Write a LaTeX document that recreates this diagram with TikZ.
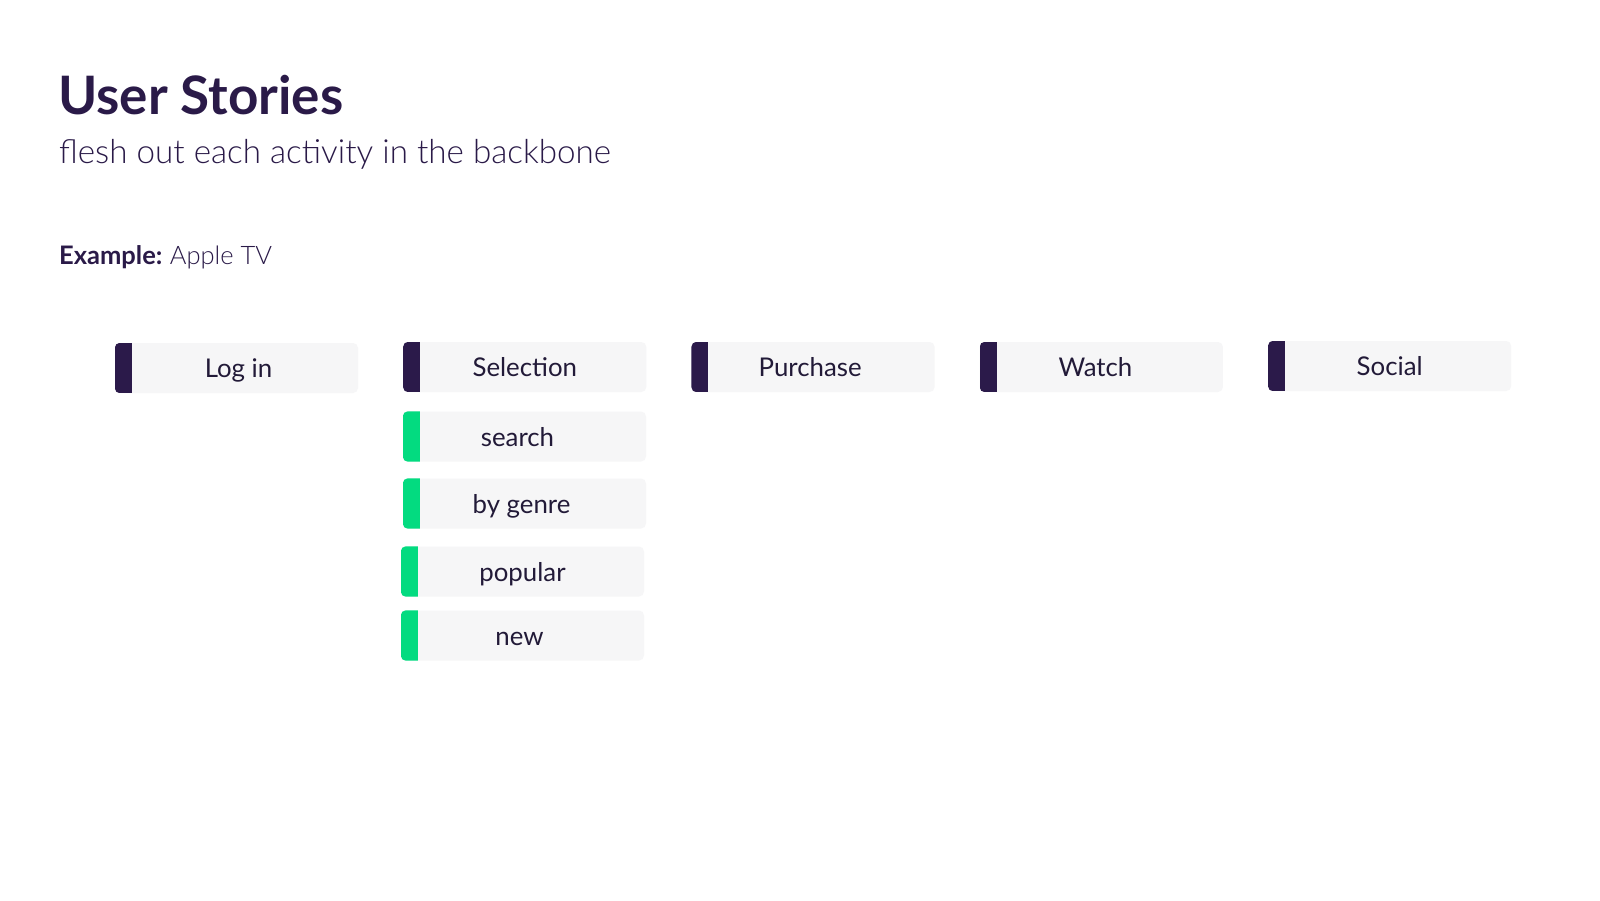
\documentclass[tikz,border=0pt]{standalone}
\usepackage{fontspec}
\setmainfont{Lato}
\newfontfamily\latolight{Lato Light}
\definecolor{ink}{HTML}{2A1A48}
\definecolor{txt}{HTML}{221A38}
\definecolor{barD}{HTML}{2B1A4A}
\definecolor{barG}{HTML}{03DB80}
\definecolor{cardbg}{HTML}{F6F6F7}
\tikzset{
  card/.style={rounded corners=5pt, fill=cardbg, minimum width=243pt, minimum height=50pt,
    inner sep=0pt},
  cardtext/.style={inner sep=0pt, font=\fontsize{25.8}{25.8}\selectfont, text=txt, anchor=base},
}
\newcommand{\cardbar}[2]{%
  \begin{scope}
    \clip[rounded corners=5pt] (#1.south west) rectangle (#1.north east);
    \fill[#2] (#1.north west) rectangle ([xshift=17pt]#1.south west);
  \end{scope}}
\begin{document}
\begin{tikzpicture}[x=1pt,y=-1pt]
\useasboundingbox (0,0) rectangle (1600,900);
\fill[white] (0,0) rectangle (1600,900);
% headings
\node[anchor=base west, inner sep=0pt, text=ink, font=\fontsize{53}{53}\selectfont\bfseries] (title) at (58,114) {User Stories};
\node[anchor=base west, inner sep=0pt, text=ink, font=\fontsize{33.2}{33.2}\selectfont\latolight] (sub) at (59,163) {flesh out each activity in the backbone};
\node[anchor=base west, inner sep=0pt, text=ink, font=\fontsize{25.5}{25.5}\selectfont] (ex) at (59,264) {\textbf{Example:}\hspace{-0.05em} {\latolight Apple TV}};
% backbone cards
\node[card] (login) at (236.5,368) {};
\node[card] (selection) at (524.8,367) {};
\node[card] (purchase) at (813.1,367) {};
\node[card] (watch) at (1101.4,367) {};
\node[card] (social) at (1389.7,366) {};
% story cards
\node[card] (search) at (524.5,436.5) {};
\node[card] (genre) at (524.5,503.5) {};
\node[card] (popular) at (522.5,571.5) {};
\node[card] (new) at (522.5,635.5) {};
\foreach \c in {login,selection,purchase,watch,social}{\cardbar{\c}{barD}}
\foreach \c in {search,genre,popular,new}{\cardbar{\c}{barG}}
% labels
\node[cardtext] (tlogin) at ([xshift=2pt,yshift=-9pt]login.center) {Log in};
\node[cardtext] (tsel) at ([yshift=-9pt]selection.center) {Selection};
\node[cardtext] (tpur) at ([xshift=-3pt,yshift=-9pt]purchase.center) {Purchase};
\node[cardtext] (twat) at ([xshift=-6pt,yshift=-9pt]watch.center) {Watch};
\node[cardtext] (tsoc) at ([yshift=-9pt]social.center) {Social};
\node[cardtext] (tsea) at ([xshift=-7pt,yshift=-9.5pt]search.center) {search};
\node[cardtext] (tgen) at ([xshift=-3pt,yshift=-9.5pt]genre.center) {by genre};
\node[cardtext] (tpop) at ([xshift=0pt,yshift=-9.5pt]popular.center) {popular};
\node[cardtext] (tnew) at ([xshift=-3pt,yshift=-9.5pt]new.center) {new};
\end{tikzpicture}
\end{document}
